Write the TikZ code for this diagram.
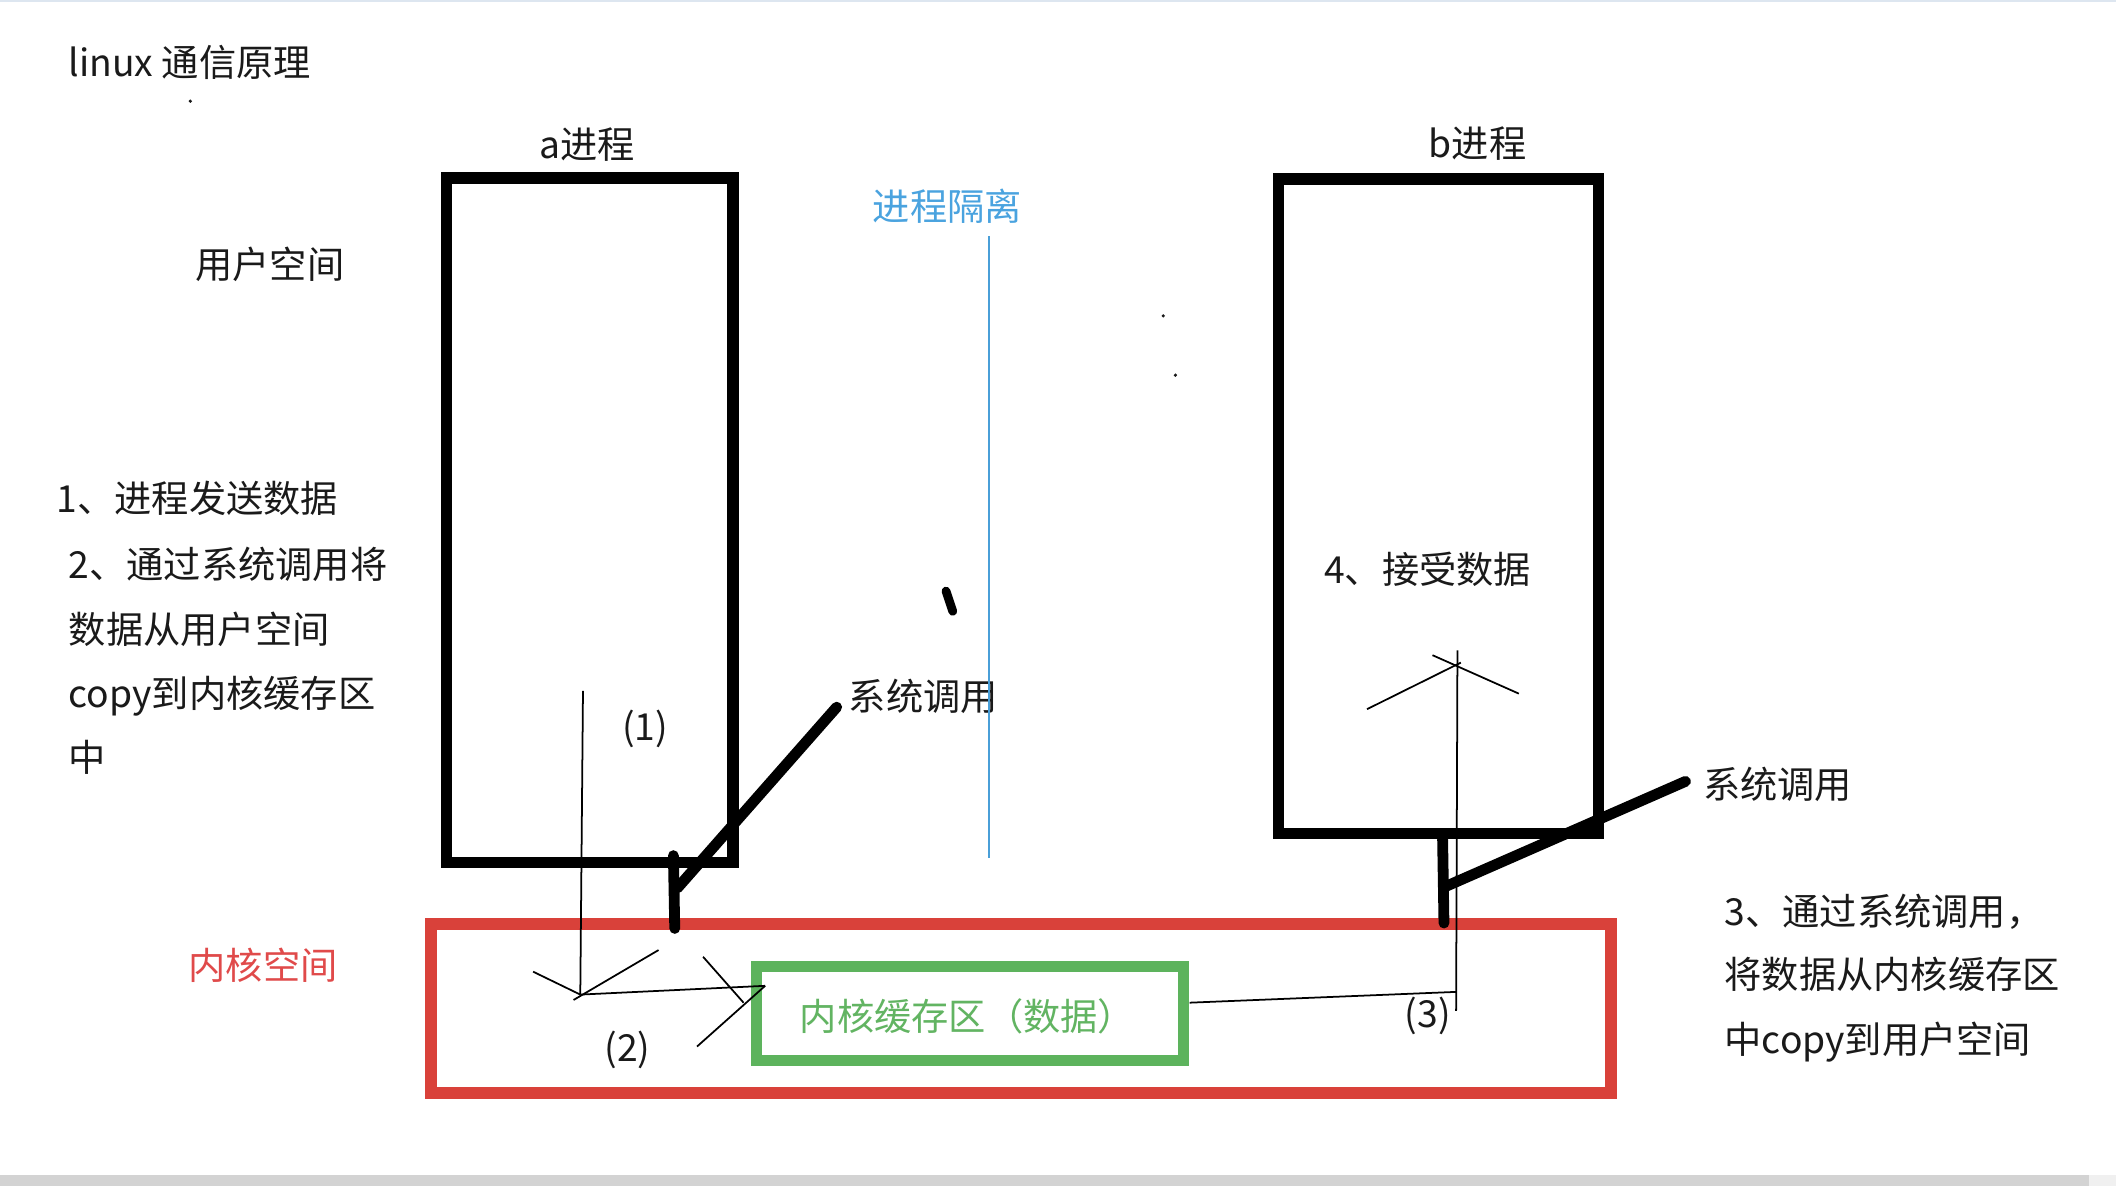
\documentclass[tikz,border=0pt]{standalone}
\usepackage{fontspec}
\setmainfont{Noto Sans CJK SC}
\definecolor{boxred}{HTML}{D9413A}
\definecolor{txtred}{HTML}{E04A4A}
\definecolor{boxgreen}{HTML}{5DB35D}
\definecolor{txtgreen}{HTML}{62B462}
\definecolor{isoblue}{HTML}{4A9FD8}
\definecolor{txtblue}{HTML}{4AA3DF}
\definecolor{ink}{HTML}{1A1A1A}
\definecolor{band}{HTML}{D3D3D3}
\definecolor{topline}{HTML}{DDE6F0}
\definecolor{bandend}{HTML}{F0F0F0}
\begin{document}
\begin{tikzpicture}[x=1pt,y=-1pt,
  lbl/.style={inner sep=0pt, outer sep=0pt, text=ink, font=\fontsize{27.6}{32}\selectfont, text height=23pt, text depth=0pt},
  procbox/.style={draw=black, line width=8.5pt, inner sep=0pt, outer sep=0pt},
  thin/.style={draw=black, line width=1.3pt},
  thick/.style={draw=black, line width=8pt, line cap=round, line join=round}]
\useasboundingbox (0,0) rectangle (1568,879);
\fill[white] (0,0) rectangle (1568,879);
\fill[topline] (0,0) rectangle (1568,1.2);
\fill[band] (0,871) rectangle (1548,879);
\fill[bandend] (1548,871) rectangle (1568,879);

% texts
\node[lbl, anchor=west] (title) at (51,45) {linux 通信原理};
\node[lbl] (user) at (200,195) {用户空间};
\node[lbl] (aname) at (435,106) {a进程};
\node[lbl] (bname) at (1095,105) {b进程};
\node[lbl, text=txtblue] (iso) at (702,152) {进程隔离};
\node[lbl, text=txtred] (kernel) at (195,714) {内核空间};
\node[lbl, anchor=west] (s1) at (42,368) {1、进程发送数据};
\node[lbl, anchor=west] (s2a) at (51,417) {2、通过系统调用将};
\node[lbl, anchor=west] (s2b) at (51,465) {数据从用户空间};
\node[lbl, anchor=west] (s2c) at (51,513) {copy到内核缓存区};
\node[lbl, anchor=west] (s2d) at (51,560) {中};
\node[lbl, anchor=west] (s3a) at (1278,674) {3、通过系统调用，};
\node[lbl, anchor=west] (s3b) at (1278,721) {将数据从内核缓存区};
\node[lbl, anchor=west] (s3c) at (1278,769) {中copy到用户空间};
\node[lbl] (s4) at (1058,421) {4、接受数据};
\node[lbl, anchor=west] (sca) at (629,515) {系统调用};
\node[lbl, anchor=west] (scb) at (1262,580) {系统调用};
\node[lbl] (n1) at (478,537) {(1)};
\node[lbl] (n2) at (465,775) {(2)};
\node[lbl] (n3) at (1058,750) {(3)};

% boxes
\node[procbox, minimum width=212pt, minimum height=507pt] (abox) at (437,385.5) {};
\node[procbox, minimum width=237pt, minimum height=485pt] (bbox) at (1066,375) {};
\node[draw=boxred, line width=9pt, inner sep=0pt, outer sep=0pt, minimum width=874pt, minimum height=125pt] (kbox) at (756.5,747.5) {};
\node[draw=boxgreen, line width=8.5pt, inner sep=0pt, outer sep=0pt, minimum width=316.5pt, minimum height=70pt] (buf) at (718.75,751) {};
\node[lbl, text=txtgreen] (buftxt) at (717,752) {内核缓存区（数据）};

% process isolation line
\coordinate (isoT) at (733,175);
\coordinate (isoB) at (733,636);
\draw[isoblue, line width=1.4pt] (isoT) -- (isoB);

% system call strokes
\coordinate (aV1) at (499,634);
\coordinate (aV2) at (500,688);
\coordinate (aD1) at (502,658);
\coordinate (aD2) at (620,524);
\draw[thick] (aV1) -- (aV2);
\draw[thick] (aD1) -- (aD2);
\coordinate (bV1) at (1069,622);
\coordinate (bV2) at (1070,684);
\coordinate (bD1) at (1071,657);
\coordinate (bD2) at (1249,579);
\draw[thick] (bV1) -- (bV2);
\draw[thick] (bD1) -- (bD2);

% arrow (1): down from a
\coordinate (p1) at (432,512);
\coordinate (p2) at (430,737);
\draw[thin] (p1) -- (p2);
\coordinate (h1a) at (395,720);
\coordinate (h1b) at (425,741);
\coordinate (h1c) at (488,704);
\draw[thin] (h1a) -- (p2);
\draw[thin] (h1b) -- (h1c);

% arrow (2): to buffer
\coordinate (p3) at (567,730.5);
\draw[thin] (p2) -- (p3);
\coordinate (h2a) at (521,709);
\coordinate (h2b) at (551,743);
\coordinate (h2c) at (516.5,775.5);
\draw[thin] (h2a) -- (h2b);
\draw[thin] (h2c) -- (p3);

% arrow (3): buffer to b
\coordinate (q1) at (881.5,743);
\coordinate (q2) at (1079,735);
\coordinate (q3) at (1079,749);
\coordinate (q4) at (1080,482);
\draw[thin] (q1) -- (q2);
\draw[thin] (q3) -- (q4);
\coordinate (h3a) at (1013,525.5);
\coordinate (h3b) at (1082.5,491);
\coordinate (h3c) at (1061.5,485.5);
\coordinate (h3d) at (1125.5,514);
\draw[thin] (h3a) -- (h3b);
\draw[thin] (h3c) -- (h3d);

% stray marks
\coordinate (blob1) at (701,438);
\coordinate (blob2) at (706,453);
\draw[thick, line width=6.5pt] (blob1) -- (blob2);
\fill[ink] (141,75) circle (1.3);
\fill[ink] (862,234) circle (1.3);
\fill[ink] (871,278) circle (1.3);
\end{tikzpicture}
\end{document}
